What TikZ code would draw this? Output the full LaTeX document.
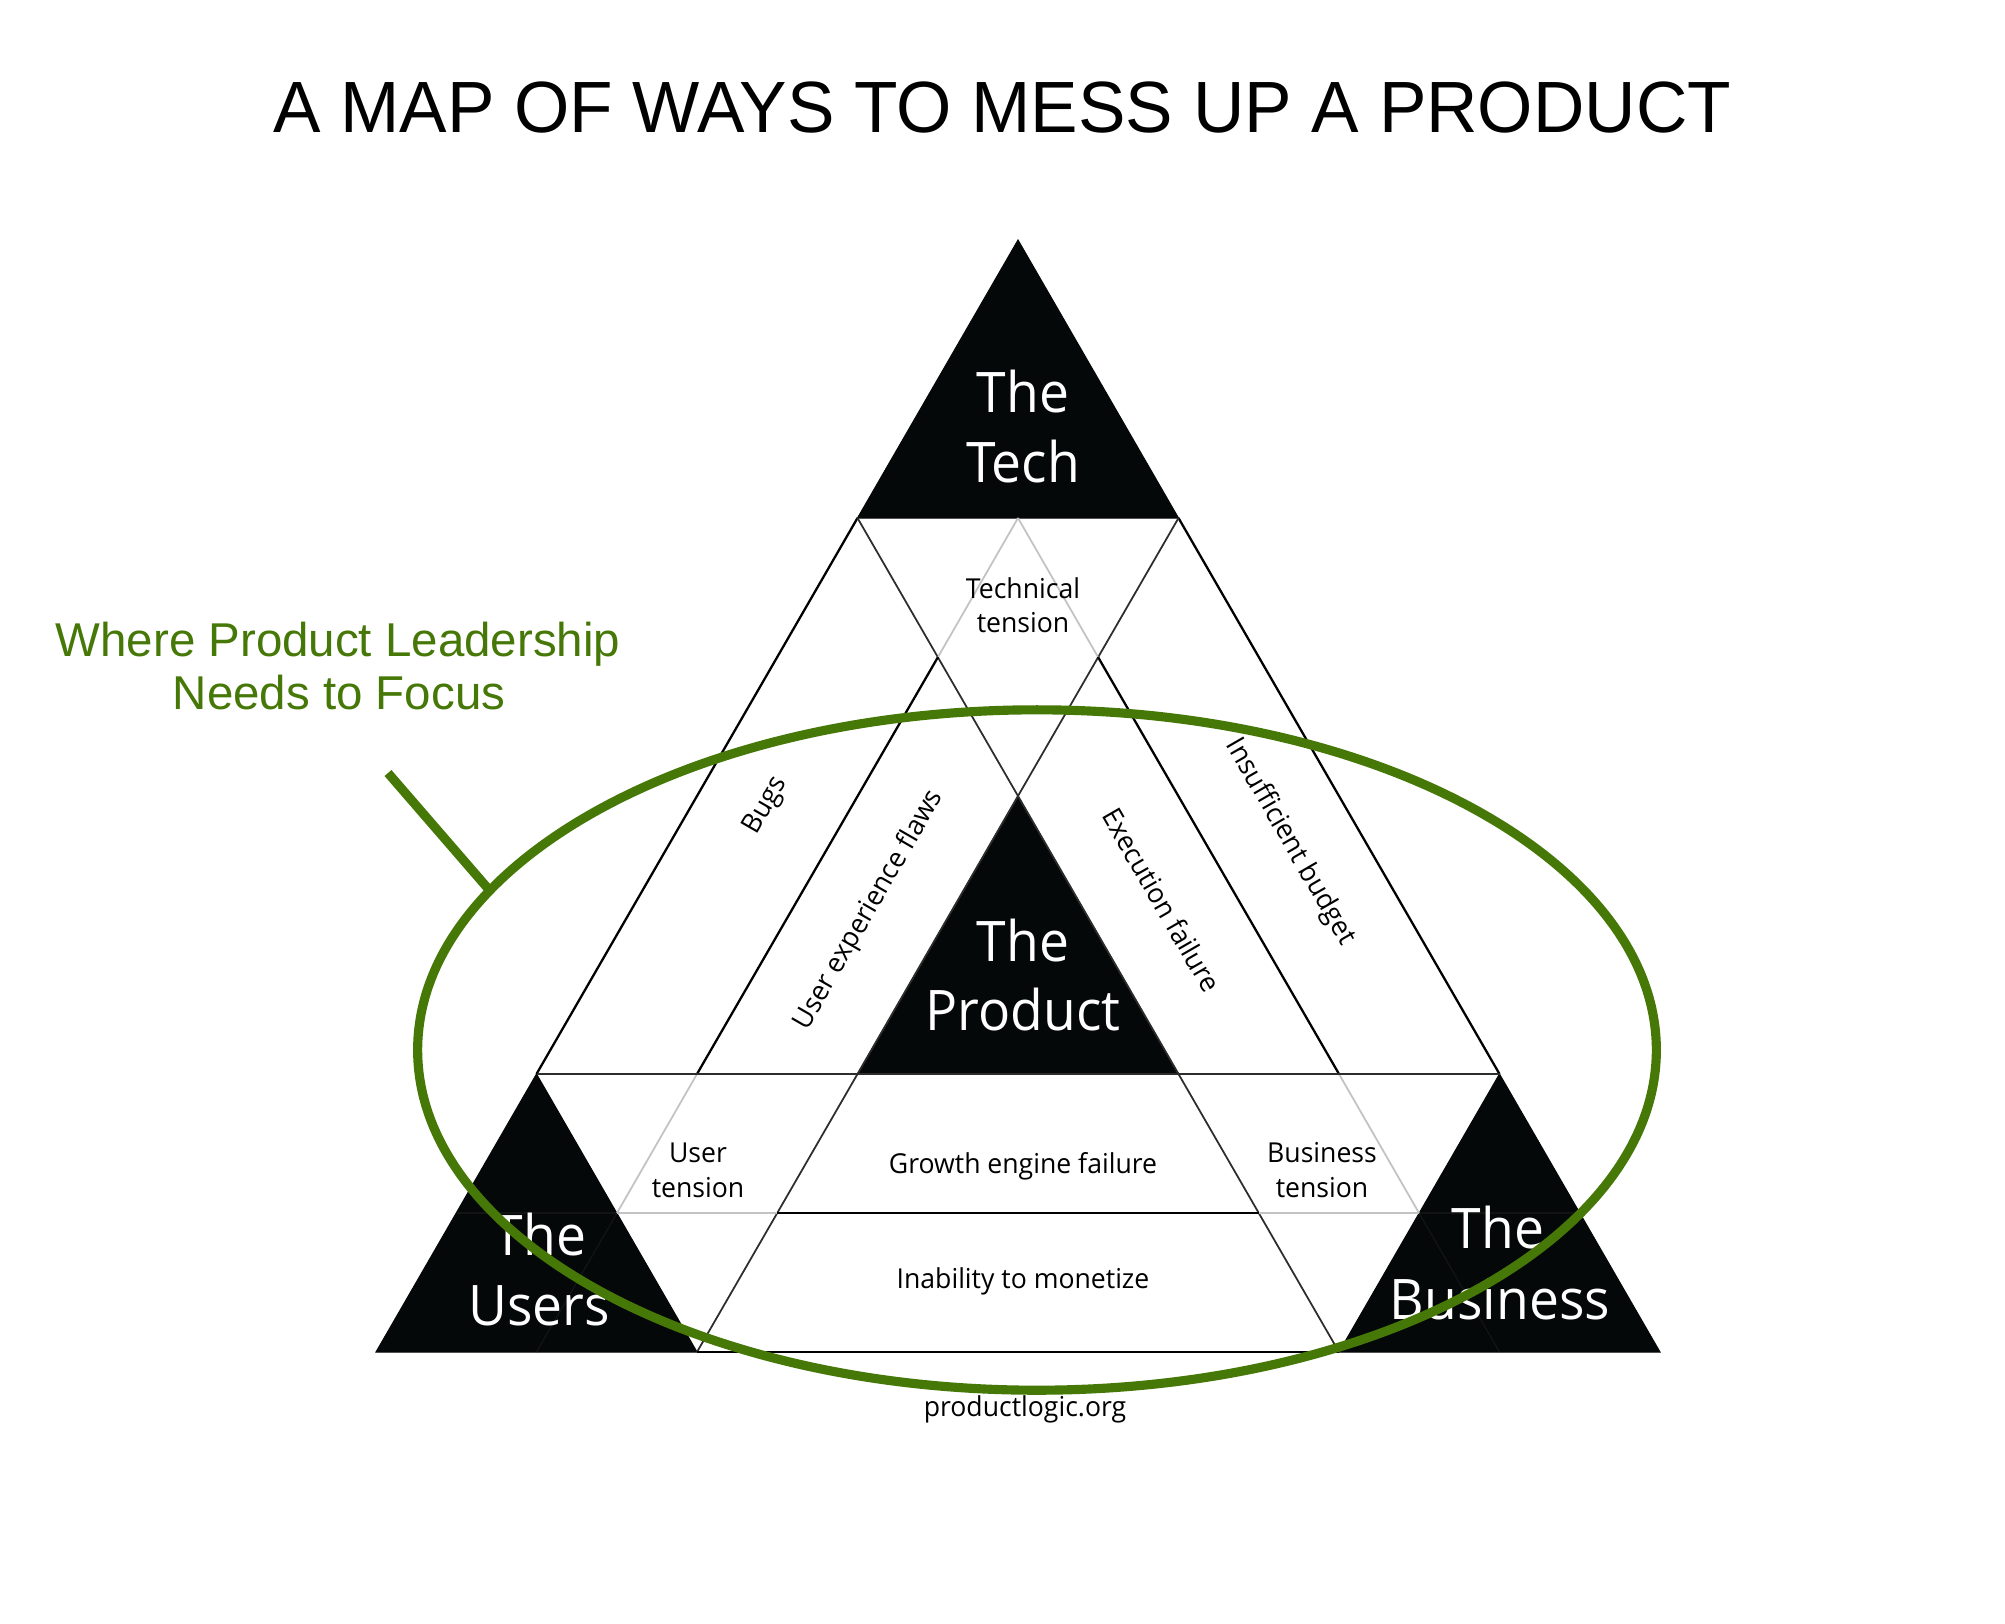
\documentclass[tikz,border=0pt]{standalone}
\usepackage{graphicx}
\usepackage{fontspec}
\setmainfont{Liberation Sans}
\newfontfamily\myr{Open Sans}
\definecolor{lgreen}{RGB}{70,120,8}
\definecolor{nearblack}{RGB}{5,8,8}
\definecolor{darkline}{RGB}{45,45,45}
\definecolor{lightline}{RGB}{195,195,195}
\definecolor{hidline}{RGB}{18,20,20}
\newcommand{\nb}[1]{\scalebox{0.955}[1]{#1}}
\newcommand{\ns}[1]{\scalebox{0.97}[1]{#1}}
\tikzset{
  blk/.style={fill=nearblack, draw=nearblack, line width=0.3pt},
  outer/.style={draw=black, line width=0.65pt},
  inner/.style={draw=darkline, line width=0.5pt},
  faint/.style={draw=lightline, line width=0.5pt},
  hid/.style={draw=hidline, line width=0.4pt},
  lbl/.style={font=\myr\fontsize{7.8}{9.4}\selectfont, inner sep=0pt, anchor=base, text=black},
  rlbl/.style={font=\myr\fontsize{7.8}{9.4}\selectfont, inner sep=0pt, anchor=center, text=black},
  big/.style={font=\myr\fontsize{15.9}{19}\selectfont, inner sep=0pt, anchor=base, text=white},
  focus/.style={draw=lgreen, line width=2.6pt},
  gtxt/.style={font=\fontsize{13.5}{16}\selectfont, inner sep=0pt, anchor=base, text=lgreen}
}
\begin{document}
\begin{tikzpicture}[x=0.01cm,y=-0.01cm]
\useasboundingbox (0,0) rectangle (2005,1623);
\fill[white] (0,0) rectangle (2005,1623);
% lattice points
\coordinate (T0) at (1018,240);
\coordinate (L1) at (857.5,518);
\coordinate (M1) at (1018,518);
\coordinate (R1) at (1178.5,518);
\coordinate (XL) at (938,657);
\coordinate (XR) at (1098,657);
\coordinate (P0) at (1018,796);
\coordinate (U0) at (536.5,1074);
\coordinate (H3L) at (697,1074);
\coordinate (A3) at (857.5,1074);
\coordinate (B3) at (1178.5,1074);
\coordinate (H3R) at (1339,1074);
\coordinate (Z0) at (1499.5,1074);
\coordinate (Q0) at (456.5,1213);
\coordinate (Q1) at (617,1213);
\coordinate (Q2) at (777,1213);
\coordinate (Q3) at (1258.5,1213);
\coordinate (Q4) at (1419,1213);
\coordinate (Q5) at (1579.5,1213);
\coordinate (B0) at (376,1352);
\coordinate (B1) at (536.5,1352);
\coordinate (B2) at (697,1352);
\coordinate (B4) at (1339,1352);
\coordinate (B5) at (1499.5,1352);
\coordinate (B6) at (1660,1352);
% black triangles
\path[blk] (T0) -- (L1) -- (R1) -- cycle;
\path[blk] (P0) -- (A3) -- (B3) -- cycle;
\path[blk] (U0) -- (B0) -- (B2) -- cycle;
\path[blk] (Z0) -- (B4) -- (B6) -- cycle;
% lines hidden inside black triangles
\draw[hid] (Q1) -- (B1);
\draw[hid] (Q4) -- (B5);
\draw[hid] (Q0) -- (Q1);
\draw[hid] (Q4) -- (Q5);
% outer edges
\draw[outer] (L1) -- (U0);
\draw[outer] (R1) -- (Z0);
% long diagonals
\draw[inner] (L1) -- (B4);
\draw[inner] (R1) -- (B2);
% half diagonals
\draw[faint] (M1) -- (XL);
\draw[outer] (XL) -- (H3L);
\draw[faint] (H3L) -- (Q1);
\draw[faint] (M1) -- (XR);
\draw[outer] (XR) -- (H3R);
\draw[faint] (H3R) -- (Q4);
% horizontals
\draw[inner] (U0) -- (Z0);
\draw[faint] (Q1) -- (Q2);
\draw[outer] (Q2) -- (Q3);
\draw[faint] (Q3) -- (Q4);
\draw[outer] (B2) -- (B4);
% title
\node[anchor=base, inner sep=0pt, font=\fontsize{20.65}{24}\selectfont] (title) at (1002,132) {\scalebox{0.98}[1]{A MAP OF WAYS TO MESS UP A PRODUCT}};
% big labels
\node[big] (tech1) at (1023,412) {\nb{The}};
\node[big] (tech2) at (1023,482) {\nb{Tech}};
\node[big] (prod1) at (1023,961) {\nb{The}};
\node[big] (prod2) at (1023,1030) {\nb{Product}};
\node[big] (user1) at (540,1255) {\nb{The}};
\node[big] (user2) at (539,1325) {\nb{Users}};
\node[big] (bus1) at (1498,1248) {\nb{The}};
\node[big] (bus2) at (1500,1319) {\nb{Business}};
% small labels
\node[lbl] (tt1) at (1023,598) {\ns{Technical}};
\node[lbl] (tt2) at (1023,632) {\ns{tension}};
\node[lbl] (ut1) at (698,1162) {\ns{User}};
\node[lbl] (ut2) at (698,1197) {\ns{tension}};
\node[lbl] (bt1) at (1322,1162) {\ns{Business}};
\node[lbl] (bt2) at (1322,1197) {\ns{tension}};
\node[lbl] (growth) at (1023,1173) {\ns{Growth engine failure}};
\node[lbl] (money) at (1023,1288) {\ns{Inability to monetize}};
\node[lbl] (site) at (1025,1416) {\ns{productlogic.org}};
\node[rlbl, rotate=60] (bugs) at (766,806) {\ns{Bugs}};
\node[rlbl, rotate=60] (ux) at (869,910) {\ns{User experience flaws}};
\node[rlbl, rotate=-60] (exec) at (1162,900) {\ns{Execution failure}};
\node[rlbl, rotate=-60] (budget) at (1290,842) {\ns{Insufficient budget}};
% focus ellipse and pointer
\coordinate (EC) at (1037,1050);
\draw[focus] (EC) ellipse [x radius=6.19cm, y radius=3.40cm];
\coordinate (PT0) at (388,773);
\coordinate (PT1) at (491,892);
\draw[focus] (PT0) -- (PT1);
\node[gtxt] (g1) at (338,656) {Where Product Leadership};
\node[gtxt] (g2) at (339,709) {Needs to Focus};
\end{tikzpicture}
\end{document}
